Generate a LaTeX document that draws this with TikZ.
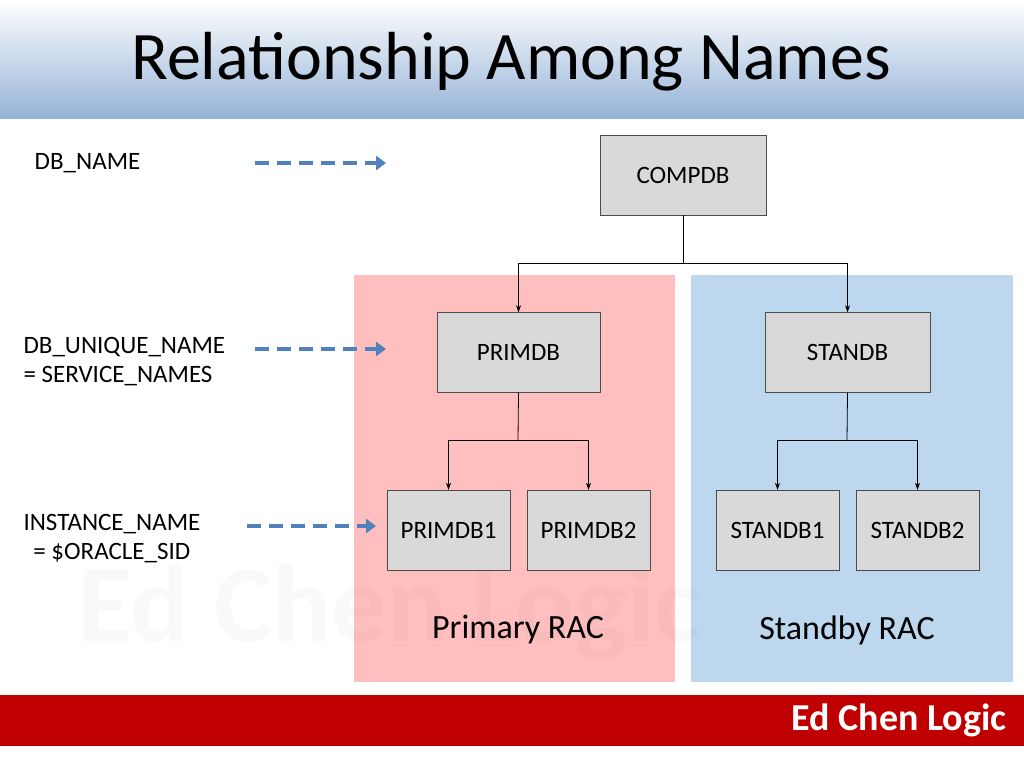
\documentclass[tikz,border=0pt]{standalone}
\usepackage{fontspec}
\setmainfont{Carlito}
\usetikzlibrary{arrows.meta}
\definecolor{hdr}{HTML}{95B3D7}
\definecolor{boxf}{HTML}{D9D9D9}
\definecolor{pinkr}{HTML}{FFBFBF}
\definecolor{bluer}{HTML}{BDD7EE}
\definecolor{darr}{HTML}{4F81BD}
\definecolor{foot}{HTML}{C00000}
\tikzset{
 dbbox/.style={draw=black!70,fill=boxf,minimum width=#1,minimum height=80pt,font=\fontsize{25}{29}\selectfont,inner sep=0},
 conn/.style={draw=black,line width=0.8pt,-{Stealth[length=7pt,width=5pt]}},
 darrow/.style={draw=darr,line width=4pt,dash pattern=on 14pt off 8pt,-{Triangle[length=10pt,width=14pt]}},
 lbl/.style={anchor=west,align=left,font=\fontsize{25}{29}\selectfont}
}
\begin{document}
\begin{tikzpicture}[x=1pt,y=-1pt]
\useasboundingbox (0,0) rectangle (1024,768);
\fill[white] (0,0) rectangle (1024,768);
\shade[top color=white,bottom color=hdr] (0,0) rectangle (1024,118);
\node[font=\fontsize{68}{78}\selectfont] (title) at (511,62) {Relationship Among Names};
\fill[pinkr] (354,275) rectangle (675,682);
\fill[bluer] (691,275) rectangle (1013,682);
\node[text=black,opacity=0.025,text opacity=0.025,font=\bfseries\fontsize{110}{120}\selectfont,anchor=west] (wm) at (75,612) {Ed Chen Logic};
\fill[foot] (0,695) rectangle (1024,746);
\node[text=white,font=\bfseries\fontsize{38}{40}\selectfont,anchor=east] (brand) at (1010,720) {Ed Chen Logic};
\node[dbbox=166pt] (comp) at (683,175) {COMPDB};
\node[dbbox=163pt] (prim) at (518.5,352.5) {PRIMDB};
\node[dbbox=165pt] (stan) at (847.5,352.5) {STANDB};
\node[dbbox=123pt] (p1) at (448.5,530) {PRIMDB1};
\node[dbbox=123pt] (p2) at (588.5,530) {PRIMDB2};
\node[dbbox=123pt] (s1) at (777.5,530) {STANDB1};
\node[dbbox=123pt] (s2) at (917.5,530) {STANDB2};
\coordinate (cj) at (683,263);
\coordinate (pj) at (518,440);
\coordinate (sj) at (847,440);
\draw[line width=0.8pt] (comp.south) -- (cj);
\draw[conn] (cj) -| (prim.north);
\draw[conn] (cj) -| (stan.north);
\draw[line width=0.8pt] (prim.south) -- (pj);
\draw[conn] (pj) -| (p1.north);
\draw[conn] (pj) -| (p2.north);
\draw[line width=0.8pt] (stan.south) -- (sj);
\draw[conn] (sj) -| (s1.north);
\draw[conn] (sj) -| (s2.north);
\node[font=\fontsize{34}{38}\selectfont] (prac) at (518,630) {Primary RAC};
\node[font=\fontsize{34}{38}\selectfont] (srac) at (847,630) {Standby RAC};
\node[lbl] (l1) at (27,163) {\,DB\_NAME};
\node[lbl] (l2) at (20,362) {DB\_UNIQUE\_NAME\\= SERVICE\_NAMES};
\node[lbl] (l3) at (20,539) {INSTANCE\_NAME\\\ \,= \$ORACLE\_SID};
\coordinate (a1s) at (255,163); \coordinate (a1e) at (386,163);
\coordinate (a2s) at (255,349); \coordinate (a2e) at (386,349);
\coordinate (a3s) at (247,526); \coordinate (a3e) at (376,526);
\draw[darrow] (a1s) -- (a1e);
\draw[darrow] (a2s) -- (a2e);
\draw[darrow] (a3s) -- (a3e);
\end{tikzpicture}
\end{document}
